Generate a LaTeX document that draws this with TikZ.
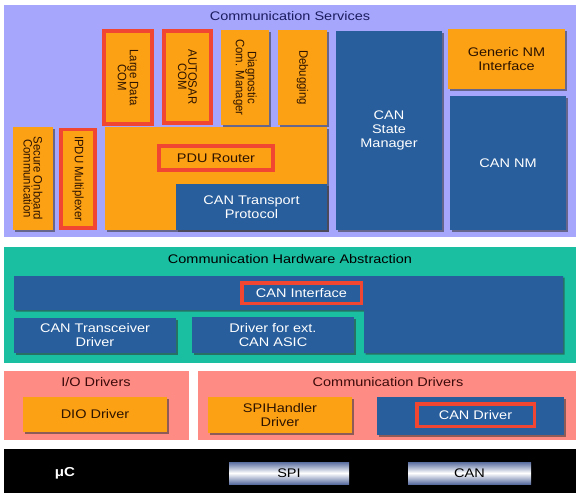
\documentclass[tikz,border=0pt]{standalone}
\usepackage{fontspec}
\setmainfont{Liberation Sans}[FakeStretch=1.16]
\newfontfamily\rotfont{Liberation Sans}[FakeStretch=0.93]
\usetikzlibrary{shadows}
\definecolor{svc}{RGB}{166,166,252}
\definecolor{org}{RGB}{252,160,20}
\definecolor{blu}{RGB}{40,94,156}
\definecolor{tealbg}{RGB}{26,190,160}
\definecolor{pnk}{RGB}{255,140,132}
\definecolor{redb}{RGB}{240,70,50}
\definecolor{navy}{RGB}{28,28,96}
\definecolor{dk}{RGB}{45,20,0}
\definecolor{dkred}{RGB}{60,10,10}
\definecolor{barblue}{RGB}{90,110,160}
\tikzset{
  myshadow/.style={drop shadow={shadow xshift=1.6pt,shadow yshift=-1.6pt,fill=black!80,opacity=0.55}},
  base/.style={inner sep=0pt, outer sep=0pt, align=center, font=\fontsize{12.5}{14}\selectfont},
  panel/.style={inner sep=0pt, outer sep=0pt},
  obox/.style={base, fill=org, text=dk, myshadow},
  bbox/.style={base, fill=blu, text=white, myshadow},
  rbox/.style={base, fill=org, text=dk, draw=redb, line width=3.5pt},
  rbbox/.style={base, fill=blu, text=white, draw=redb, line width=3.5pt},
  rot/.style={rotate=-90, align=center, inner sep=0pt, text=dk, font=\rotfont\fontsize{12.2}{10.2}\selectfont},
  title/.style={inner sep=0pt, font=\fontsize{12.5}{14}\selectfont},
  bar/.style={base, top color=barblue, bottom color=barblue, middle color=white, text=black},
}
\newcommand\bx[7]{\node[#1, anchor=north west, minimum width={(#5-#3)*1pt}, minimum height={(#6-#4)*1pt}] (#2) at (#3,#4) {#7};}
\begin{document}
\begin{tikzpicture}[x=1pt,y=-1pt]
\useasboundingbox[fill=white] (0,0) rectangle (579,496);
% Communication Services
\bx{panel,fill=svc}{svc}{4}{5}{576}{237}{}
\node[title,text=navy] (svct) at (290,16) {Communication Services};
\bx{rbox}{ldc}{104}{31}{152}{124}{}
\node[rot] (ldct) at (ldc.center) {Large Data\\COM};
\bx{rbox}{acom}{164}{31}{211}{123}{}
\node[rot] (acomt) at (acom.center) {AUTOSAR\\COM};
\bx{obox}{dcm}{221}{30}{269}{125}{}
\node[rot] (dcmt) at (dcm.center) {Diagnostic\\Com. Manager};
\bx{obox}{dbg}{278}{30}{327}{125}{}
\node[rot] (dbgt) at (dbg.center) {Debugging};
\bx{bbox}{csm}{336}{31}{442}{230}{CAN\\State\\Manager}
\bx{obox}{gnm}{448}{29}{565}{89}{Generic NM\\Interface}
\bx{bbox}{cnm}{450}{96}{566}{230}{CAN NM}
\bx{obox}{soc}{13}{127}{53}{230}{}
\node[rot] (soct) at (soc.center) {Secure Onboard\\Communication};
\bx{rbox}{ipdu}{61}{129.5}{95}{228}{}
\node[rot] (ipdut) at (ipdu.center) {IPDU Multiplexer};
\bx{obox}{pdub}{105}{127}{327}{230}{}
\bx{rbox}{pdur}{159}{146}{273}{170}{PDU Router}
\bx{bbox}{cantp}{176}{184}{327}{230}{CAN Transport\\Protocol}
% Communication Hardware Abstraction
\bx{panel,fill=tealbg}{hwa}{4}{247}{576}{363}{}
\node[title,text=black] (hwat) at (290,259) {Communication Hardware Abstraction};
\path[fill=blu, myshadow] (14,276) -- (563,276) -- (563,353) -- (364,353) -- (364,310) -- (14,310) -- cycle;
\bx{rbbox}{canif}{241.75}{282.75}{361.25}{303.25}{CAN Interface}
\bx{bbox}{cantrx}{14}{318}{176}{353}{CAN Transceiver\\Driver}
\bx{bbox}{drvext}{192}{317}{354}{353}{Driver for ext.\\CAN ASIC}
% Drivers
\bx{panel,fill=pnk}{iod}{4}{371}{189}{440}{}
\node[title,text=dkred] (iodt) at (96,382) {I/O Drivers};
\bx{panel,fill=pnk}{cdr}{198}{371}{576}{440}{}
\node[title,text=dkred] (cdrt) at (388,382) {Communication Drivers};
\bx{obox}{dio}{23}{397}{167}{432}{DIO Driver}
\bx{obox}{spih}{208}{397}{352}{433}{SPIHandler\\Driver}
\bx{bbox}{canb}{377}{397}{564}{435}{}
\bx{rbbox}{candrv}{416.75}{403.75}{534.25}{426.25}{CAN Driver}
% Microcontroller
\bx{panel,fill=black}{uc}{4}{449}{576}{493}{}
\node[text=white, inner sep=0pt, font=\bfseries\fontsize{13}{14}\selectfont] (uct) at (65,473) {μC};
\bx{bar}{spi}{229}{462}{349}{484}{SPI}
\bx{bar}{canbus}{408}{462}{531}{484}{CAN}
\end{tikzpicture}
\end{document}
